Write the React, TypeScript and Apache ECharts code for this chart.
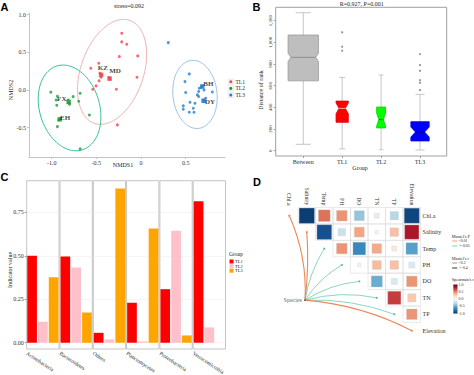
import React, { useEffect, useRef } from "react";
import * as echarts from "echarts";

/* ---------------- Panel A : NMDS ---------------- */
const nmdsStress = "stress=0.092";
const nmdsGroups = ["TL1", "TL2", "TL3"];
const tl1Points = [
  [-0.216, 0.752], [-0.216, 0.637], [-0.16, 0.606], [-0.037, 0.451], [-0.243, 0.442],
  [-0.473, 0.354], [-0.563, 0.288], [-0.459, 0.221], [-0.44, 0.199], [-0.447, 0.168],
  [-0.358, 0.163], [-0.347, 0.142], [-0.47, 0.12], [-0.503, 0.053], [-0.54, 0.009],
  [-0.276, 0.009], [-0.045, 0.168], [-0.265, -0.464],
];
const tl2Points = [
  [-1.01, -0.03], [-0.936, -0.084], [-0.76, -0.089], [-0.682, -0.044], [-0.95, -0.133],
  [-0.817, -0.133], [-0.81, -0.17], [-0.8, -0.19], [-0.697, -0.15], [-0.943, -0.203],
  [-0.578, -0.332], [-0.909, -0.385], [-0.92, -0.4], [-0.936, -0.487], [-0.682, -0.782],
];
const tl3Points = [
  [0.305, 0.627], [0.54, 0.212], [0.492, 0.11], [0.686, 0.053], [0.675, 0.035],
  [0.652, 0.022], [0.705, 0.0], [0.645, -0.022], [0.798, -0.027], [0.5, -0.035],
  [0.63, -0.066], [0.645, -0.088], [0.723, -0.11], [0.697, -0.133], [0.705, -0.155],
  [0.604, -0.177], [0.548, -0.163], [0.473, -0.212], [0.585, -0.243], [0.473, -0.256],
  [0.54, -0.296], [0.593, -0.296],
];
const siteNames = ["KZ", "MD", "FX", "EH", "BH", "DY"];
const siteGroup = [0, 0, 1, 1, 2, 2];
const sitePoints = [[-0.447, 0.2], [-0.352, 0.15], [-0.81, -0.16], [-0.91, -0.39], [0.686, 0.045], [0.7, -0.145]];
const siteLabelPoints = [[-0.428, 0.288], [-0.291, 0.252], [-0.887, -0.123], [-0.85, -0.375], [0.753, 0.08], [0.772, -0.155]];
// centre x, centre y, semi-axis 1 (dx, dy), semi-axis 2 (dx, dy)
const ellipseParams = [
  [-0.324, 0.239, 0.19, 0.686, 0.337, -0.12],
  [-0.8, -0.239, 0.14, -0.557, 0.322, 0.114],
  [0.604, -0.06, 0.039, -0.451, 0.246, 0.03],
];
const nmdsXTicks = [-1, -0.5, 0, 0.5];
const nmdsXTickLabels = ["-1.0", "-0.5", "0", "0.5"];
const nmdsYTicks = [-0.5, 0, 0.5, 1];
const nmdsYTickLabels = ["-0.5", "0.0", "0.5", "1.0"];

/* ---------------- Panel B : ANOSIM boxplot ---------------- */
const anosimTitle = "R=0.927, P=0.001";
const boxGroups = ["Between", "TL1", "TL2", "TL3"];
const boxLower = [59, 16, 9, 6];
const boxQ1 = [645, 262, 210, 90];
const boxMedian = [862, 391, 287, 172];
const boxQ3 = [1068, 458, 403, 268];
const boxUpper = [1274, 677, 699, 520];
const boxNotch = [38, 50, 60, 46];
const outliersTL1 = [1093, 960, 923];
const outliersTL3 = [892, 791, 738, 652, 628, 560];
const rankTicks = [0, 200, 400, 600, 800, 1000, 1200];

/* ---------------- Panel C : indicator values ---------------- */
const phyla = ["Actinobacteria", "Bacteroidetes", "Others", "Planctomycetes", "Proteobacteria", "Verrucomicrobia"];
const indicatorGroups = ["TL1", "TL2", "TL3"];
const indicatorTL1 = [0.5, 0.496, 0.057, 0.23, 0.308, 0.814];
const indicatorTL2 = [0.121, 0.433, 0.019, 0.008, 0.644, 0.088];
const indicatorTL3 = [0.377, 0.174, 0.887, 0.657, 0.042, 0];
const indicatorTicks = [0, 0.25, 0.5, 0.75];
const indicatorTickLabels = ["0.00", "0.25", "0.50", "0.75"];

/* ---------------- Panel D : Mantel + Spearman ---------------- */
const envVars = ["Chl.a", "Salinity", "Temp", "PH", "DO", "TN", "TP", "Elevation"];
const spearmanRows = [
  [-0.95, 0.55, 0.45, -0.4, -0.1, -0.28, -0.92],
  [-0.88, -0.22, 0.4, 0.05, 0.3, 0.82],
  [0.45, -0.65, 0.38, 0.1, -0.55],
  [-0.05, 0.32, 0.3, -0.15],
  [-0.5, -0.15, 0.45],
  [0.7, 0.27],
  [0.45],
];
const mantelP = ["<0.01", "<0.01", ">=0.05", ">=0.05", ">=0.05", ">=0.05", ">=0.05", "<0.01"];
const mantelR = [">=0.4", ">=0.4", "<0.2", "<0.2", "<0.2", "<0.2", "<0.2", ">=0.4"];
const speciesName = "Species";
const speciesPos = [0.9, 5.14];
const colorbarLabels = ["1.0", "0.5", "0.0", "-0.5", "-1.0"];

/* ---------------- styles ---------------- */
const SERIF = '"Liberation Serif", "Times New Roman", serif';
const SANS = '"Liberation Sans", Arial, sans-serif';
const TXT = "#262626";
const groupColors = ["#e8484f", "#1e9a3a", "#2080d0"];
const ellipseColors = ["#f2b3b3", "#36c39c", "#9cc4e4"];
const boxFill = ["#bebebe", "#ff0000", "#00ff00", "#0000ff"];
const boxStroke = ["#9a9a9a", "#e00000", "#00d000", "#0000d8"];
const boxMedianColor = ["#8a8a8a", "#ffb3b3", "#008800", "#000088"];
const boxHalfWidth = [0.39, 0.158, 0.115, 0.235];
const boxNotchRatio = [0.82, 0.5, 0.5, 0.5];
const barColors = ["#ff0000", "#ffc0cb", "#ffa500"];
const mantelPColor: Record<string, string> = { "<0.01": "#ee8855", ">=0.05": "#5bc49f" };
const mantelRWidth: Record<string, number> = { "<0.2": 0.7, ">=0.4": 1.1 };
// ECharts lines: control point = mid + c * (dy, -dx) in pixels
const curvature = [-0.12, -0.05, 0.1, 0.12, 0.12, 0.12, 0.1, 0.1];
const RDBU = ["#053061", "#2166ac", "#4393c3", "#92c5de", "#d1e5f0", "#f7f7f7", "#fddbc7", "#f4a582", "#d6604d", "#b2182b", "#67001f"];

function hexToRgb(h: string) {
  const n = parseInt(h.slice(1), 16);
  return [(n >> 16) & 255, (n >> 8) & 255, n & 255];
}
function rdbu(r: number) {
  const t = Math.max(0, Math.min(1, (r + 1) / 2)) * (RDBU.length - 1);
  const i = Math.min(RDBU.length - 2, Math.floor(t));
  const f = t - i;
  const a = hexToRgb(RDBU[i]);
  const b = hexToRgb(RDBU[i + 1]);
  return "rgb(" + a.map((v, k) => Math.round(v + (b[k] - v) * f)).join(",") + ")";
}
function pick(ticks: number[], labels: string[]) {
  return (v: number) => {
    const i = ticks.findIndex((t) => Math.abs(t - v) < 1e-9);
    return i >= 0 ? labels[i] : "";
  };
}
function text(x: number, y: number, t: string, o: any = {}) {
  const align = o.align || "center";
  const va = o.va || "middle";
  return {
    type: "text", x, y, rotation: o.rot || 0, silent: true, z: 100,
    style: {
      text: t, fill: o.color || TXT, fontSize: o.size || 6, fontFamily: o.family || SERIF,
      fontWeight: o.weight || "normal", align, verticalAlign: va, textAlign: align, textVerticalAlign: va,
    },
  };
}
function gline(x1: number, y1: number, x2: number, y2: number, color: string, w: number) {
  return { type: "line", silent: true, z: 100, shape: { x1, y1, x2, y2 }, style: { stroke: color, lineWidth: w } };
}

function buildOption() {
  const grids: any[] = [];
  const xAxes: any[] = [];
  const yAxes: any[] = [];
  const series: any[] = [];
  const graphic: any[] = [];
  const lbl = { fontFamily: SERIF, color: "#333" };

  /* ----- A ----- */
  grids.push({ left: 29, top: 13, width: 196, height: 144, outerBoundsMode: "none" });
  xAxes.push({
    type: "value", gridIndex: 0, min: -1.254, max: 0.94,
    axisLine: { show: true, onZero: false, lineStyle: { color: "#c4c4c4", width: 1 } },
    axisTick: { show: true, length: 2, lineStyle: { color: "#c4c4c4" }, customValues: nmdsXTicks },
    axisLabel: { customValues: nmdsXTicks, formatter: pick(nmdsXTicks, nmdsXTickLabels), fontSize: 6, margin: 2.5, ...lbl },
    splitLine: { show: false },
  });
  yAxes.push({
    type: "value", gridIndex: 0, min: -0.89, max: 1.02,
    axisLine: { show: true, onZero: false, lineStyle: { color: "#c4c4c4", width: 1 } },
    axisTick: { show: true, length: 2, lineStyle: { color: "#c4c4c4" }, customValues: nmdsYTicks },
    axisLabel: { customValues: nmdsYTicks, formatter: pick(nmdsYTicks, nmdsYTickLabels), fontSize: 6, margin: 3, ...lbl },
    splitLine: { show: false },
  });
  series.push({
    type: "custom", xAxisIndex: 0, yAxisIndex: 0, silent: true,
    data: ellipseParams.map((e) => [e[0], e[1]]), encode: { x: 0, y: 1 },
    renderItem: (params: any, api: any) => {
      const e = ellipseParams[params.dataIndex];
      const pts: number[][] = [];
      for (let k = 0; k <= 90; k++) {
        const t = (k / 90) * Math.PI * 2;
        pts.push(api.coord([e[0] + Math.cos(t) * e[2] + Math.sin(t) * e[4], e[1] + Math.cos(t) * e[3] + Math.sin(t) * e[5]]));
      }
      return { type: "polyline", shape: { points: pts }, style: { fill: "none", stroke: ellipseColors[params.dataIndex], lineWidth: 1 } };
    },
  });
  [tl1Points, tl2Points, tl3Points].forEach((pts, g) => {
    series.push({
      type: "scatter", name: nmdsGroups[g], xAxisIndex: 0, yAxisIndex: 0, data: pts, symbol: "circle", symbolSize: 3,
      itemStyle: { color: groupColors[g] }, silent: true,
    });
  });
  series.push({
    type: "scatter", xAxisIndex: 0, yAxisIndex: 0, symbol: "rect", symbolSize: 4.5, silent: true,
    data: sitePoints.map((p, i) => ({ value: p, itemStyle: { color: groupColors[siteGroup[i]] } })),
  });
  series.push({
    type: "scatter", xAxisIndex: 0, yAxisIndex: 0, symbolSize: 0, silent: true,
    data: siteLabelPoints.map((p, i) => ({ value: p, name: siteNames[i] })),
    label: { show: true, position: "inside", formatter: "{b}", fontFamily: SERIF, fontWeight: "bold", fontSize: 7, color: "#111" },
  });

  /* ----- B ----- */
  grids.push({ left: 275.7, top: 7.3, width: 171, height: 148.7, show: true, borderColor: "#a0a0a0", borderWidth: 1, backgroundColor: "transparent", outerBoundsMode: "none" });
  xAxes.push({
    type: "value", gridIndex: 1, min: 0.292, max: 4.685,
    axisLine: { show: false, onZero: false },
    axisTick: { show: true, length: 2, lineStyle: { color: "#a0a0a0" }, customValues: [1, 2, 3, 4] },
    axisLabel: { customValues: [1, 2, 3, 4], formatter: (v: number) => boxGroups[Math.round(v) - 1] || "", fontSize: 6, margin: 2.5, ...lbl },
    splitLine: { show: false },
  });
  yAxes.push({
    type: "value", gridIndex: 1, min: -49, max: 1324,
    axisLine: { show: false, onZero: false },
    axisTick: { show: true, length: 2, lineStyle: { color: "#a0a0a0" }, customValues: rankTicks },
    axisLabel: { customValues: rankTicks, rotate: 90, fontSize: 5, margin: 2.5, ...lbl },
    splitLine: { show: false },
  });
  series.push({
    type: "custom", xAxisIndex: 1, yAxisIndex: 1, silent: true,
    data: boxGroups.map((_, i) => [i + 1, boxLower[i], boxQ1[i], boxMedian[i], boxQ3[i], boxUpper[i], boxNotch[i]]),
    encode: { x: 0, y: [1, 5] },
    renderItem: (params: any, api: any) => {
      const i = params.dataIndex;
      const x = api.value(0), lo = api.value(1), q1 = api.value(2), md = api.value(3), q3 = api.value(4), hi = api.value(5), nh = api.value(6);
      const hw = boxHalfWidth[i], nr = boxNotchRatio[i];
      const P = (dx: number, v: number) => api.coord([x + dx, v]);
      const poly = [P(-hw, q1), P(-hw, md - nh), P(-hw * nr, md), P(-hw, md + nh), P(-hw, q3), P(hw, q3), P(hw, md + nh), P(hw * nr, md), P(hw, md - nh), P(hw, q1)];
      const cap = hw * 0.5;
      const seg = (a: number[], b: number[], c: string, w: number) => ({ type: "line", shape: { x1: a[0], y1: a[1], x2: b[0], y2: b[1] }, style: { stroke: c, lineWidth: w } });
      return {
        type: "group",
        children: [
          seg(P(0, lo), P(0, q1), "#b8b8b8", 0.8),
          seg(P(0, q3), P(0, hi), "#b8b8b8", 0.8),
          seg(P(-cap, lo), P(cap, lo), "#b8b8b8", 0.8),
          seg(P(-cap, hi), P(cap, hi), "#b8b8b8", 0.8),
          { type: "polygon", shape: { points: poly }, style: { fill: boxFill[i], stroke: boxStroke[i], lineWidth: 0.8 } },
          seg(P(-hw * nr, md), P(hw * nr, md), boxMedianColor[i], 0.9),
        ],
      };
    },
  });
  series.push({
    type: "scatter", xAxisIndex: 1, yAxisIndex: 1, symbol: "circle", symbolSize: 2.2, silent: true,
    itemStyle: { color: "#7a7a7a" },
    data: [...outliersTL1.map((v) => [2, v]), ...outliersTL3.map((v) => [4, v])],
  });

  /* ----- C ----- */
  for (let k = 0; k < phyla.length; k++) {
    const gi = grids.length;
    const left = 26.7 + 33.3 * k;
    grids.push({ left, top: 180.7, width: 32.3, height: 168.3, show: true, borderColor: "#c4c4c4", borderWidth: 1, backgroundColor: "transparent", outerBoundsMode: "none" });
    xAxes.push({
      type: "category", gridIndex: gi, data: indicatorGroups,
      axisLine: { show: false, onZero: false }, axisTick: { show: false }, axisLabel: { show: false },
      splitLine: { show: false },
    });
    yAxes.push({
      type: "value", gridIndex: gi, min: -0.036, max: 0.932,
      axisLine: { show: false, onZero: false },
      axisTick: { show: k === 0, length: 2, lineStyle: { color: "#9a9a9a" }, customValues: indicatorTicks },
      axisLabel: { show: k === 0, customValues: indicatorTicks, formatter: pick(indicatorTicks, indicatorTickLabels), fontSize: 6, margin: 3, ...lbl },
      splitLine: { show: true, lineStyle: { color: "#efefef", width: 0.6 } },
    });
    series.push({
      type: "bar", xAxisIndex: gi, yAxisIndex: gi, barCategoryGap: "10%", silent: true,
      data: [indicatorTL1[k], indicatorTL2[k], indicatorTL3[k]].map((v, g) => ({ value: v, itemStyle: { color: barColors[g] } })),
    });
    graphic.push(text(left + 1.5, 350.5, phyla[k], { align: "left", va: "top", rot: -0.58, size: 5.4 }));
  }

  /* ----- D ----- */
  const dg = grids.length;
  grids.push({ left: 280.55, top: 207.5, width: 140, height: 131.4, outerBoundsMode: "none" });
  const idx8 = envVars.map((_, i) => i);
  xAxes.push({
    type: "value", gridIndex: dg, min: -0.5, max: 7.5, position: "top",
    axisLine: { show: false, onZero: false }, axisTick: { show: false }, splitLine: { show: false },
    axisLabel: { customValues: idx8, formatter: (v: number) => envVars[Math.round(v)] || "", rotate: 90, fontSize: 5.8, margin: 2, ...lbl },
  });
  yAxes.push({
    type: "value", gridIndex: dg, min: -0.5, max: 7.5, inverse: true, position: "right",
    axisLine: { show: false, onZero: false }, axisTick: { show: false }, splitLine: { show: false },
    axisLabel: { customValues: idx8, formatter: (v: number) => envVars[Math.round(v)] || "", fontSize: 6, margin: 2, ...lbl },
  });
  const cells: number[][] = [];
  spearmanRows.forEach((row, i) => row.forEach((r, k) => cells.push([i + 1 + k, i, r])));
  series.push({
    type: "custom", xAxisIndex: dg, yAxisIndex: dg, silent: true, data: cells, encode: { x: 0, y: 1 },
    renderItem: (params: any, api: any) => {
      const c = api.value(0), rw = api.value(1), r = api.value(2);
      const p0 = api.coord([c - 0.5, rw - 0.5]);
      const p1 = api.coord([c + 0.5, rw + 0.5]);
      const x0 = Math.min(p0[0], p1[0]), y0 = Math.min(p0[1], p1[1]);
      const w = Math.abs(p1[0] - p0[0]), h = Math.abs(p1[1] - p0[1]);
      const side = Math.min(w, h) * 0.96 * Math.sqrt(Math.abs(r));
      const cx = x0 + w / 2, cy = y0 + h / 2;
      return {
        type: "group",
        children: [
          { type: "rect", shape: { x: x0, y: y0, width: w, height: h }, style: { fill: "none", stroke: "#dcdcdc", lineWidth: 0.6 } },
          { type: "rect", shape: { x: cx - side / 2, y: cy - side / 2, width: side, height: side }, style: { fill: rdbu(r), stroke: "#c8c8c8", lineWidth: 0.3 } },
        ],
      };
    },
  });
  series.push({
    type: "lines", coordinateSystem: "cartesian2d", xAxisIndex: dg, yAxisIndex: dg, silent: true, z: 3,
    symbol: ["none", "circle"], symbolSize: 2.2,
    data: envVars.map((_, i) => ({
      coords: [speciesPos, [i, i]],
      lineStyle: { color: mantelPColor[mantelP[i]], width: mantelRWidth[mantelR[i]], curveness: curvature[i], opacity: 1 },
    })),
  });
  series.push({
    type: "scatter", xAxisIndex: dg, yAxisIndex: dg, symbolSize: 2.2, silent: true, z: 4,
    itemStyle: { color: "#555" }, data: [speciesPos],
    label: { show: true, position: "left", distance: 2, formatter: speciesName, fontSize: 6, ...lbl },
  });

  /* ----- texts / legends ----- */
  graphic.push(text(0.5, 7, "A", { family: SANS, weight: "bold", size: 11, align: "left", color: "#000" }));
  graphic.push(text(252.5, 7, "B", { family: SANS, weight: "bold", size: 11, align: "left", color: "#000" }));
  graphic.push(text(0.5, 177, "C", { family: SANS, weight: "bold", size: 11, align: "left", color: "#000" }));
  graphic.push(text(253, 182, "D", { family: SANS, weight: "bold", size: 11, align: "left", color: "#000" }));

  graphic.push(text(129, 6, nmdsStress, { size: 6 }));
  graphic.push(text(123, 164.5, "NMDS1", { size: 6 }));
  graphic.push(text(11, 90, "NMDS2", { size: 6, rot: Math.PI / 2 }));
  nmdsGroups.forEach((g, i) => {
    const y = 81.7 + 6.7 * i;
    graphic.push({ type: "rect", silent: true, z: 100, shape: { x: 228, y: y - 2.8, width: 5.6, height: 5.6 }, style: { fill: "#f4f4f4", stroke: "#e0e0e0", lineWidth: 0.4 } });
    graphic.push({ type: "circle", silent: true, z: 101, shape: { cx: 230.8, cy: y, r: 1.5 }, style: { fill: groupColors[i] } });
    graphic.push(text(235.5, y, g, { size: 5.5, align: "left" }));
  });

  graphic.push(text(361.7, 3.5, anosimTitle, { size: 6 }));
  graphic.push(text(360, 168, "Group", { size: 6 }));
  graphic.push(text(261, 90, "Distance of rank", { size: 6, rot: Math.PI / 2 }));

  graphic.push(text(10, 270, "Indicator value", { size: 6, rot: Math.PI / 2 }));
  graphic.push(text(229, 254, "Group", { size: 5.5, align: "left" }));
  indicatorGroups.forEach((g, i) => {
    const y = 261.5 + 4.6 * i;
    graphic.push({ type: "rect", silent: true, z: 100, shape: { x: 229.5, y: y - 2, width: 4, height: 4 }, style: { fill: barColors[i] } });
    graphic.push(text(235, y, g, { size: 4.5, align: "left" }));
  });

  const lx = 451.7;
  graphic.push(text(lx, 236, "Mantel's P", { size: 4.3, align: "left" }));
  graphic.push(gline(lx + 0.5, 241, lx + 5.5, 241, mantelPColor["<0.01"], 0.8));
  graphic.push(text(lx + 7, 241, "<0.01", { size: 3.8, align: "left" }));
  graphic.push(gline(lx + 0.5, 246, lx + 5.5, 246, mantelPColor[">=0.05"], 0.8));
  graphic.push(text(lx + 7, 246, ">=0.05", { size: 3.8, align: "left" }));
  graphic.push(text(lx, 258, "Mantel's r", { size: 4.3, align: "left" }));
  graphic.push(gline(lx + 0.5, 263, lx + 5.5, 263, "#777", mantelRWidth["<0.2"]));
  graphic.push(text(lx + 7, 263, "<0.2", { size: 3.8, align: "left" }));
  graphic.push(gline(lx + 0.5, 268, lx + 5.5, 268, "#777", mantelRWidth[">=0.4"] + 0.4));
  graphic.push(text(lx + 7, 268, ">=0.4", { size: 3.8, align: "left" }));
  graphic.push(text(lx, 279, "Spearman's r", { size: 4.3, align: "left" }));
  graphic.push({
    type: "rect", silent: true, z: 100, shape: { x: 453.3, y: 284.5, width: 4.2, height: 29 },
    style: {
      fill: new echarts.graphic.LinearGradient(0, 0, 0, 1, RDBU.slice().reverse().map((c, i) => ({ offset: i / (RDBU.length - 1), color: c }))),
    },
  });
  colorbarLabels.forEach((t, i) => graphic.push(text(458.6, 284.5 + (29 * i) / 4, t, { size: 3.8, align: "left" })));

  return {
    animation: false,
    backgroundColor: "#ffffff",
    grid: grids,
    xAxis: xAxes,
    yAxis: yAxes,
    series,
    graphic,
  };
}

export default function App() {
  const ref = useRef<HTMLDivElement>(null);
  useEffect(() => {
    document.body.style.margin = "0";
    const chart = echarts.init(ref.current as HTMLDivElement, null, { renderer: "svg" });
    chart.setOption(buildOption() as any);
    return () => chart.dispose();
  }, []);
  return <div ref={ref} style={{ width: 474, height: 375 }} />;
}
